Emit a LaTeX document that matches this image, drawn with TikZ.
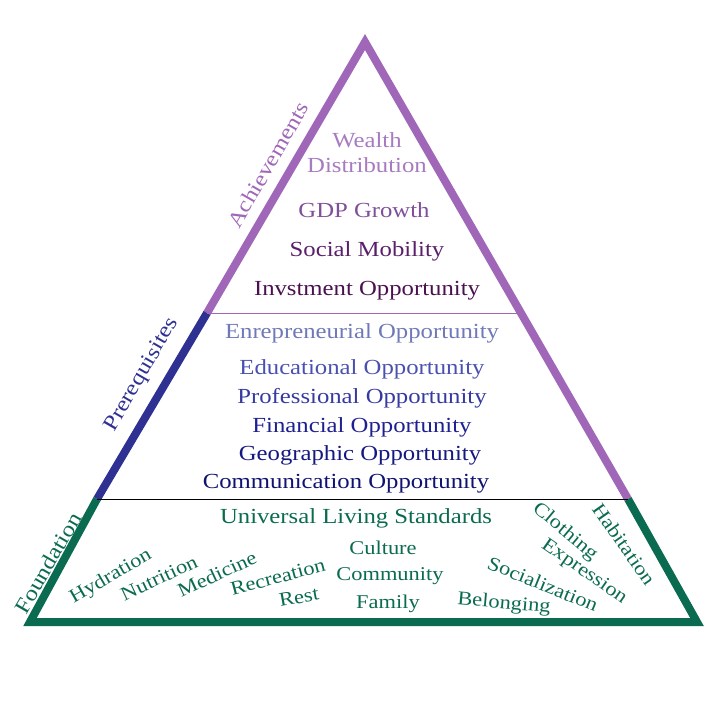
\documentclass[tikz,border=0pt]{standalone}
\usepackage{fontspec}
\setmainfont[FakeStretch=1.15]{Liberation Serif}
\definecolor{achv}{HTML}{A066B8}
\definecolor{prereq}{HTML}{2E3192}
\definecolor{found}{HTML}{0B6B50}
\definecolor{wealth}{HTML}{A77BC0}
\definecolor{gdp}{HTML}{7F4F9A}
\definecolor{social}{HTML}{5A1F6A}
\definecolor{invest}{HTML}{4A1050}
\definecolor{entre}{HTML}{6F79B8}
\definecolor{edu}{HTML}{4A50B0}
\definecolor{prof}{HTML}{3539A0}
\definecolor{fin}{HTML}{1E2090}
\definecolor{geo}{HTML}{141880}
\definecolor{comm}{HTML}{0E1270}
\tikzset{
  lbl/.style={font=\fontsize{21.5}{23}\selectfont, inner sep=0pt},
  need/.style={lbl, found, font=\fontsize{19.5}{21}\selectfont},
  side/.style={line width=8pt, line cap=butt},
  divider/.style={line width=0.7pt}
}
\begin{document}
\begin{tikzpicture}[x=1pt, y=-1pt]
    \useasboundingbox (0,0) rectangle (723,723);
    \coordinate (top) at (365,42);
    \coordinate (bl) at (30,622);
    \coordinate (br) at (697,622);
    \coordinate (lmid) at (207,313);
    \coordinate (llow) at (97,499);
    \coordinate (rlow) at (628,499);
    \coordinate (rmid) at (524,313);

    % sides
    \draw[side, achv, line join=miter] (lmid) -- (top) -- (rlow);
    \draw[side, prereq] (lmid) -- (llow);
    \draw[side, found, line join=miter] (llow) -- (bl) -- (br) -- (rlow);
    \draw[divider, achv] (lmid) -- (rmid);
    \draw[divider, black] (llow) -- (rlow);

    % side labels
    \node[lbl, achv, rotate=60] (achievements) at (268,165) {Achievements};
    \node[lbl, prereq, rotate=60] (prerequisites) at (142,375) {Prerequisites};
    \node[lbl, found, rotate=60] (foundation) at (48,563) {Foundation};

    % achievements
    \node[lbl, wealth, align=center] (wealthdist) at (367,153) {Wealth\\[2pt]Distribution};
    \node[lbl, gdp] (gdpgrowth) at (364,210) {GDP Growth};
    \node[lbl, social] (mobility) at (367,251) {Social Mobility};
    \node[lbl, invest] (investment) at (367,291) {Invstment Opportunity};

    % prerequisites
    \node[lbl, entre] (entrepreneurial) at (362,333) {Enrepreneurial Opportunity};
    \node[lbl, edu] (educational) at (362,369) {Educational Opportunity};
    \node[lbl, prof] (professional) at (362,398) {Professional Opportunity};
    \node[lbl, fin] (financial) at (362,427) {Financial Opportunity};
    \node[lbl, geo] (geographic) at (360,455) {Geographic Opportunity};
    \node[lbl, comm] (communication) at (346,484) {Communication Opportunity};

    % foundation
    \node[lbl, found] (living) at (356,518) {Universal Living Standards};
    \node[need, rotate=30] (hydration) at (111,577) {Hydration};
    \node[need, rotate=25] (nutrition) at (159,578) {Nutrition};
    \node[need, rotate=25] (medicine) at (217,574) {Medicine};
    \node[need, rotate=15] (recreation) at (278,577) {Recreation};
    \node[need, rotate=10] (rest) at (299,597) {Rest};
    \node[need] (culture) at (383,548) {Culture};
    \node[need] (community) at (390,576) {Community};
    \node[need] (family) at (388,604) {Family};
    \node[need, rotate=-5] (belonging) at (504,604) {Belonging};
    \node[need, rotate=-22] (socialization) at (543,584) {Socialization};
    \node[need, rotate=-35] (expression) at (584,572) {Expression};
    \node[need, rotate=-40] (clothing) at (565,532) {Clothing};
    \node[need, rotate=-55] (habitation) at (624,544) {Habitation};
\end{tikzpicture}
\end{document}
